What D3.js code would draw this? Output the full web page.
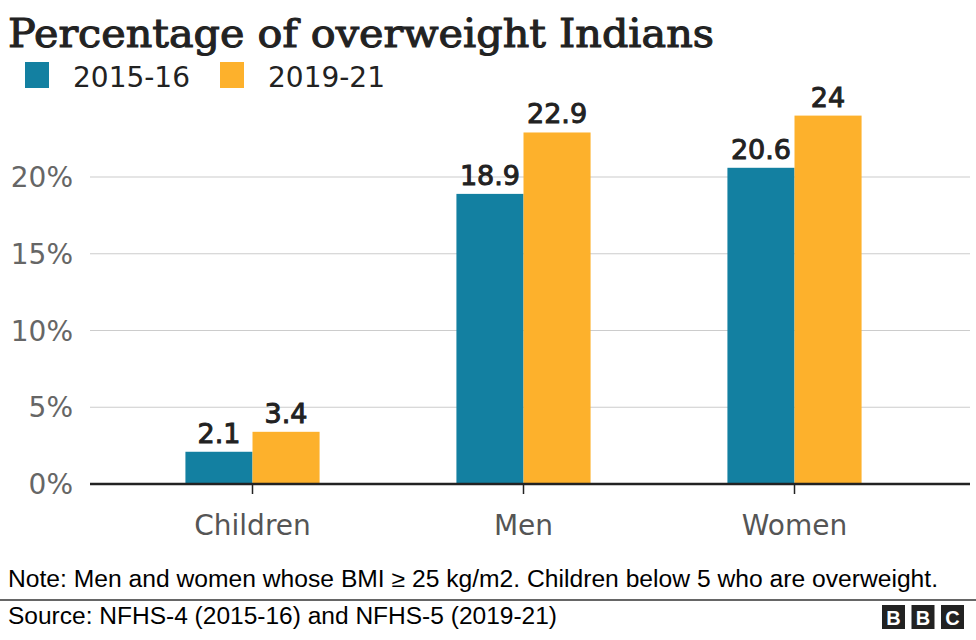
<!DOCTYPE html>
<html>
<head>
<meta charset="utf-8">
<script src="https://cdn.jsdelivr.net/npm/d3@7"></script>
<style>
  body { margin: 0; background: #fff; }
  svg { display: block; }
</style>
</head>
<body>
<svg id="chart" width="976" height="640"></svg>
<script>
// Data
const categories = ['Children', 'Men', 'Women'];
const seriesNames = ['2015-16', '2019-21'];
const values2015 = [2.1, 18.9, 20.6];
const values2019 = [3.4, 22.9, 24];
const valueLabels2015 = ['2.1', '18.9', '20.6'];
const valueLabels2019 = ['3.4', '22.9', '24'];
const yTicks = [0, 5, 10, 15, 20];
const colors = ['#1380a1', '#fdb12c'];

const svg = d3.select('#chart');
const sans = '"DejaVu Sans", "Noto Sans", sans-serif';
const footFont = '"Liberation Sans", Arial, sans-serif';

// ── Title + legend ──────────────────────────────────────────────────
svg.append('text')
    .attr('x', 8).attr('y', 47)
    .attr('font-family', '"DejaVu Serif", serif')
    .attr('font-size', 40)
    .attr('textLength', 706)
    .attr('lengthAdjust', 'spacingAndGlyphs')
    .attr('fill', '#222')
    .attr('stroke', '#222')
    .attr('stroke-width', 1.1)
    .text('Percentage of overweight Indians');

const legend = svg.append('g');
const legendX = [25, 220];
seriesNames.forEach((name, i) => {
    legend.append('rect')
        .attr('x', legendX[i]).attr('y', 62)
        .attr('width', 24).attr('height', 26)
        .attr('fill', colors[i]);
    legend.append('text')
        .attr('x', legendX[i] + 48).attr('y', 87)
        .attr('font-family', sans)
        .attr('font-size', 28)
        .attr('fill', '#222')
        .text(name);
});

// ── Scales ──────────────────────────────────────────────────────────
const plotLeft = 90, plotRight = 970;
const y = d3.scaleLinear().domain([0, 20]).range([484, 177]);
const x0 = d3.scaleBand().domain(categories).range([117, 930]).padding(0);
const x1 = d3.scaleBand().domain(seriesNames).range([0, x0.bandwidth()])
    .paddingInner(0).paddingOuter(1.02);

// Grid lines + y labels
const grid = svg.append('g');
grid.selectAll('line')
    .data(yTicks.filter(d => d > 0))
    .join('line')
    .attr('x1', plotLeft).attr('x2', plotRight)
    .attr('y1', d => y(d)).attr('y2', d => y(d))
    .attr('stroke', '#cccccc').attr('stroke-width', 1.2);

grid.selectAll('text')
    .data(yTicks)
    .join('text')
    .attr('x', 73).attr('y', d => y(d) + 10)
    .attr('text-anchor', 'end')
    .attr('font-family', sans)
    .attr('font-size', 28)
    .attr('fill', '#666')
    .text(d => d + '%');

// ── Bars ────────────────────────────────────────────────────────────
const series = [values2015, values2019];
const labels = [valueLabels2015, valueLabels2019];

const groups = svg.append('g').selectAll('g')
    .data(categories)
    .join('g')
    .attr('transform', d => `translate(${x0(d)},0)`);

groups.selectAll('rect')
    .data((d, i) => seriesNames.map((s, j) => ({ s, v: series[j][i] })))
    .join('rect')
    .attr('x', d => x1(d.s))
    .attr('width', x1.bandwidth())
    .attr('y', d => y(d.v))
    .attr('height', d => y(0) - y(d.v))
    .attr('fill', (d, j) => colors[j]);

groups.selectAll('text')
    .data((d, i) => seriesNames.map((s, j) => ({ s, v: series[j][i], t: labels[j][i] })))
    .join('text')
    .attr('x', d => x1(d.s) + x1.bandwidth() / 2)
    .attr('y', d => y(d.v) - 9)
    .attr('text-anchor', 'middle')
    .attr('font-family', sans)
    .attr('font-size', 27)
    .attr('fill', '#222')
    .attr('stroke', '#222')
    .attr('stroke-width', 1)
    .text(d => d.t);

// ── X axis ──────────────────────────────────────────────────────────
const xAxis = svg.append('g');
xAxis.append('line')
    .attr('x1', plotLeft).attr('x2', plotRight)
    .attr('y1', y(0)).attr('y2', y(0))
    .attr('stroke', '#222').attr('stroke-width', 2.5);

xAxis.selectAll('line.tick')
    .data(categories)
    .join('line')
    .attr('class', 'tick')
    .attr('x1', d => x0(d) + x0.bandwidth() / 2)
    .attr('x2', d => x0(d) + x0.bandwidth() / 2)
    .attr('y1', y(0)).attr('y2', y(0) + 10)
    .attr('stroke', '#222').attr('stroke-width', 1.5);

xAxis.selectAll('text')
    .data(categories)
    .join('text')
    .attr('x', d => x0(d) + x0.bandwidth() / 2)
    .attr('y', 535)
    .attr('text-anchor', 'middle')
    .attr('font-family', sans)
    .attr('font-size', 28)
    .attr('fill', '#555')
    .text(d => d);

// ── Footer ──────────────────────────────────────────────────────────
svg.append('text')
    .attr('x', 8).attr('y', 587)
    .attr('font-family', footFont)
    .attr('font-size', 23)
    .attr('textLength', 930)
    .attr('lengthAdjust', 'spacingAndGlyphs')
    .attr('fill', '#000')
    .text('Note: Men and women whose BMI \u2265 25 kg/m2. Children below 5 who are overweight.');

svg.append('line')
    .attr('x1', 0).attr('x2', 976)
    .attr('y1', 600).attr('y2', 600)
    .attr('stroke', '#333').attr('stroke-width', 1.5);

svg.append('text')
    .attr('x', 8).attr('y', 624)
    .attr('font-family', footFont)
    .attr('font-size', 23)
    .attr('textLength', 549)
    .attr('lengthAdjust', 'spacingAndGlyphs')
    .attr('fill', '#000')
    .text('Source: NFHS-4 (2015-16) and NFHS-5 (2019-21)');

const bbc = svg.append('g').attr('transform', 'translate(882,605)');
['B', 'B', 'C'].forEach((ch, i) => {
    bbc.append('rect')
        .attr('x', i * 29.5).attr('y', 0)
        .attr('width', 23).attr('height', 24)
        .attr('fill', '#222');
    bbc.append('text')
        .attr('x', i * 29.5 + 11.5).attr('y', 20)
        .attr('text-anchor', 'middle')
        .attr('font-family', footFont)
        .attr('font-weight', 'bold')
        .attr('font-size', 20)
        .attr('fill', '#fff')
        .text(ch);
});
</script>
</body>
</html>
